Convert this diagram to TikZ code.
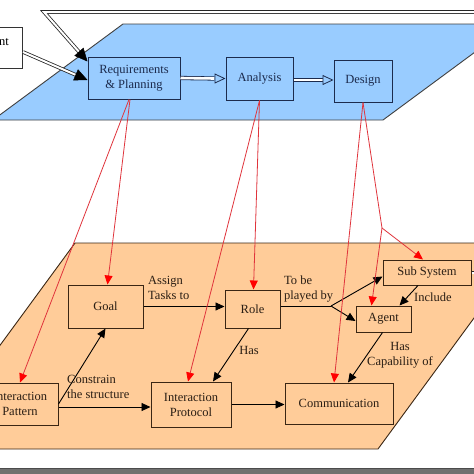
\documentclass[tikz,border=0pt]{standalone}
\usepackage{fontspec}
\setmainfont{Liberation Serif}
\usetikzlibrary{arrows.meta,calc}
\definecolor{bluefill}{HTML}{99CCFF}
\definecolor{orfill}{HTML}{FFCC99}
\definecolor{navy}{HTML}{1C2B4D}
\definecolor{brownline}{HTML}{3A2614}
\definecolor{redline}{HTML}{E0343C}
\definecolor{barfill}{HTML}{707070}
\definecolor{txtdark}{HTML}{2A1E14}
\begin{document}
\begin{tikzpicture}[x=1pt,y=-1pt,
  txtfont/.style={font=\fontsize{12.5}{15}\selectfont},
  bbox/.style={txtfont, draw=navy, line width=1pt, fill=bluefill, text=navy, align=center, inner sep=0pt},
  obox/.style={txtfont, draw=brownline, line width=1pt, fill=orfill, text=txtdark, align=center, inner sep=0pt},
  wbox/.style={draw=black!80, line width=1pt, fill=white, inner sep=0pt},
  blk/.style={draw=black, line width=0.9pt, -{Triangle[length=9pt,width=8pt]}},
  plainblk/.style={draw=black, line width=0.9pt},
  redarr/.style={draw=redline, line width=0.8pt, -{Triangle[length=9pt,width=8pt,color=red,fill=red]}},
  redln/.style={draw=redline, line width=0.8pt},
  dbl/.style={draw=black!85, double=white, double distance=2pt, line width=0.8pt},
  dblb/.style={draw=navy, double=white, double distance=2.6pt, line width=0.8pt},
  opentip/.style={draw=navy, line width=0.8pt, -{Triangle[open,length=11pt,width=10pt,fill=bluefill]}},
  bigtip/.style={draw=black, line width=0.5pt, -{Triangle[length=13pt,width=12pt]}},
  lbl/.style={txtfont, text=txtdark, inner sep=0pt, align=left}
]
\useasboundingbox (0,0) rectangle (474,474);
\clip (0,0) rectangle (474,474);
\fill[white] (0,0) rectangle (474,474);

% planes
\draw[fill=bluefill, draw=black!75, line width=0.9pt] (123,24) -- (513,24) -- (383,120) -- (-7,120) -- cycle;
\draw[fill=orfill, draw=brownline, line width=0.9pt] (75,243) -- (529,243) -- (378,449) -- (-76,449) -- cycle;

% bottom bar
\fill[barfill] (-2,468) rectangle (476,476);
\draw[black!70, line width=0.8pt] (-2,468) -- (476,468);

% top nodes
\node[wbox, minimum width=63pt, minimum height=41pt, anchor=east] (client) at (23,47.5) {};
\node[lbl, anchor=west, text=black] (clienttxt) at (-1,42) {nt};
\node[bbox, minimum width=92pt, minimum height=42pt] (req) at (134,78) {Requirements\\\& Planning};
\node[bbox, minimum width=67pt, minimum height=43pt] (ana) at (259.5,78.5) {Analysis};
\node[bbox, minimum width=58pt, minimum height=42pt] (des) at (363,81) {Design};

% bottom nodes
\node[obox, minimum width=75pt, minimum height=43pt] (goal) at (105.5,306.5) {Goal};
\node[obox, minimum width=55pt, minimum height=38pt] (role) at (252.5,309) {Role};
\node[obox, minimum width=88pt, minimum height=25pt] (subsys) at (427,272.5) {Sub System};
\node[obox, minimum width=55pt, minimum height=26pt] (agent) at (383.5,319) {Agent};
\node[obox, minimum width=76pt, minimum height=42pt] (ipat) at (20,404) {Interaction\\Pattern};
\node[obox, minimum width=80pt, minimum height=45pt] (iprot) at (191,404.5) {Interaction\\Protocol};
\node[obox, minimum width=108pt, minimum height=41pt] (comm) at (339,403.5) {Communication};

% top double connectors
\coordinate (tl) at (44,12);
\coordinate (tr) at (490,12);
\coordinate (t1) at ($(req.north west)+(0,5)$);
\coordinate (b1) at ($(t1)!12pt!(tl)$);
\draw[dbl] (tr) -- (tl) -- (b1);
\draw[bigtip] (b1) -- (t1);
\coordinate (cs) at ($(client.east)+(0,4.5)$);
\coordinate (t2) at ($(req.west)+(0,2)$);
\coordinate (b2) at ($(t2)!12pt!(cs)$);
\draw[dbl] (cs) -- (b2);
\draw[bigtip] (b2) -- (t2);

\coordinate (ra) at ($(ana.west)+(-11,0)$);
\draw[dblb] (req.east) -- (ra);
\draw[opentip] (ra) -- (ana.west);
\coordinate (ad) at ($(des.west)+(-11,-1)$);
\draw[dblb] (ana.east |- ad) -- (ad);
\draw[opentip] (ad) -- (ad -| des.west);

\coordinate (ssr) at (495,272.5);
\draw[dbl] (subsys.east) -- (ssr);

% black connectors
\draw[blk] (goal.east) -- (goal.east -| role.west);
\coordinate (pb) at (331,306);
\draw[plainblk] (role.east |- pb) -- (pb);
\draw[blk] (pb) -- ($(subsys.west)+(0,4)$);
\draw[blk] (pb) -- ($(agent.west)+(0,2)$);
\draw[blk] ($(subsys.south)+(-9,0)$) -- ($(agent.north)+(16,0)$);
\draw[blk] ($(role.south)+(-4,0)$) -- ($(iprot.north)+(22,0)$);
\draw[blk] ($(agent.south)+(-1,0)$) -- ($(comm.north)+(9,0)$);
\draw[blk] (ipat.east) -- (goal.south);
\coordinate (ipe) at ($(ipat.east)+(0,3)$);
\draw[blk] (ipe) -- (ipe -| iprot.west);
\draw[blk] (iprot.east) -- (iprot.east -| comm.west);

% red connectors
\coordinate (br) at (382,228);
\draw[redarr] ($(req.south)+(-5,0)$) -- (ipat.north);
\draw[redarr] ($(req.south)+(-4,0)$) -- ($(goal.north)+(2,0)$);
\draw[redarr] (ana.south) -- ($(role.north)+(1,0)$);
\draw[redarr] (ana.south) -- ($(iprot.north)+(-3,0)$);
\draw[redarr] (des.south) -- ($(comm.north)+(-5,0)$);
\draw[redln] (des.south) -- (br);
\draw[redarr] (br) -- ($(agent.north)+(-12,0)$);
\draw[redarr] (br) -- ($(subsys.north)+(-4,0)$);

% labels
\node[lbl, anchor=west] (l1) at (148,287.5) {Assign\\Tasks to};
\node[lbl, anchor=west] (l2) at (284,289.5) {To be\\played by};
\node[lbl, anchor=west] (l3) at (414,297) {Include};
\node[lbl] (l4) at (249,350) {Has};
\node[lbl, align=center] (l5) at (400,355.5) {Has\\Capability of};
\node[lbl, anchor=west] (l6) at (67,387) {Constrain\\ the structure};
\end{tikzpicture}
\end{document}
